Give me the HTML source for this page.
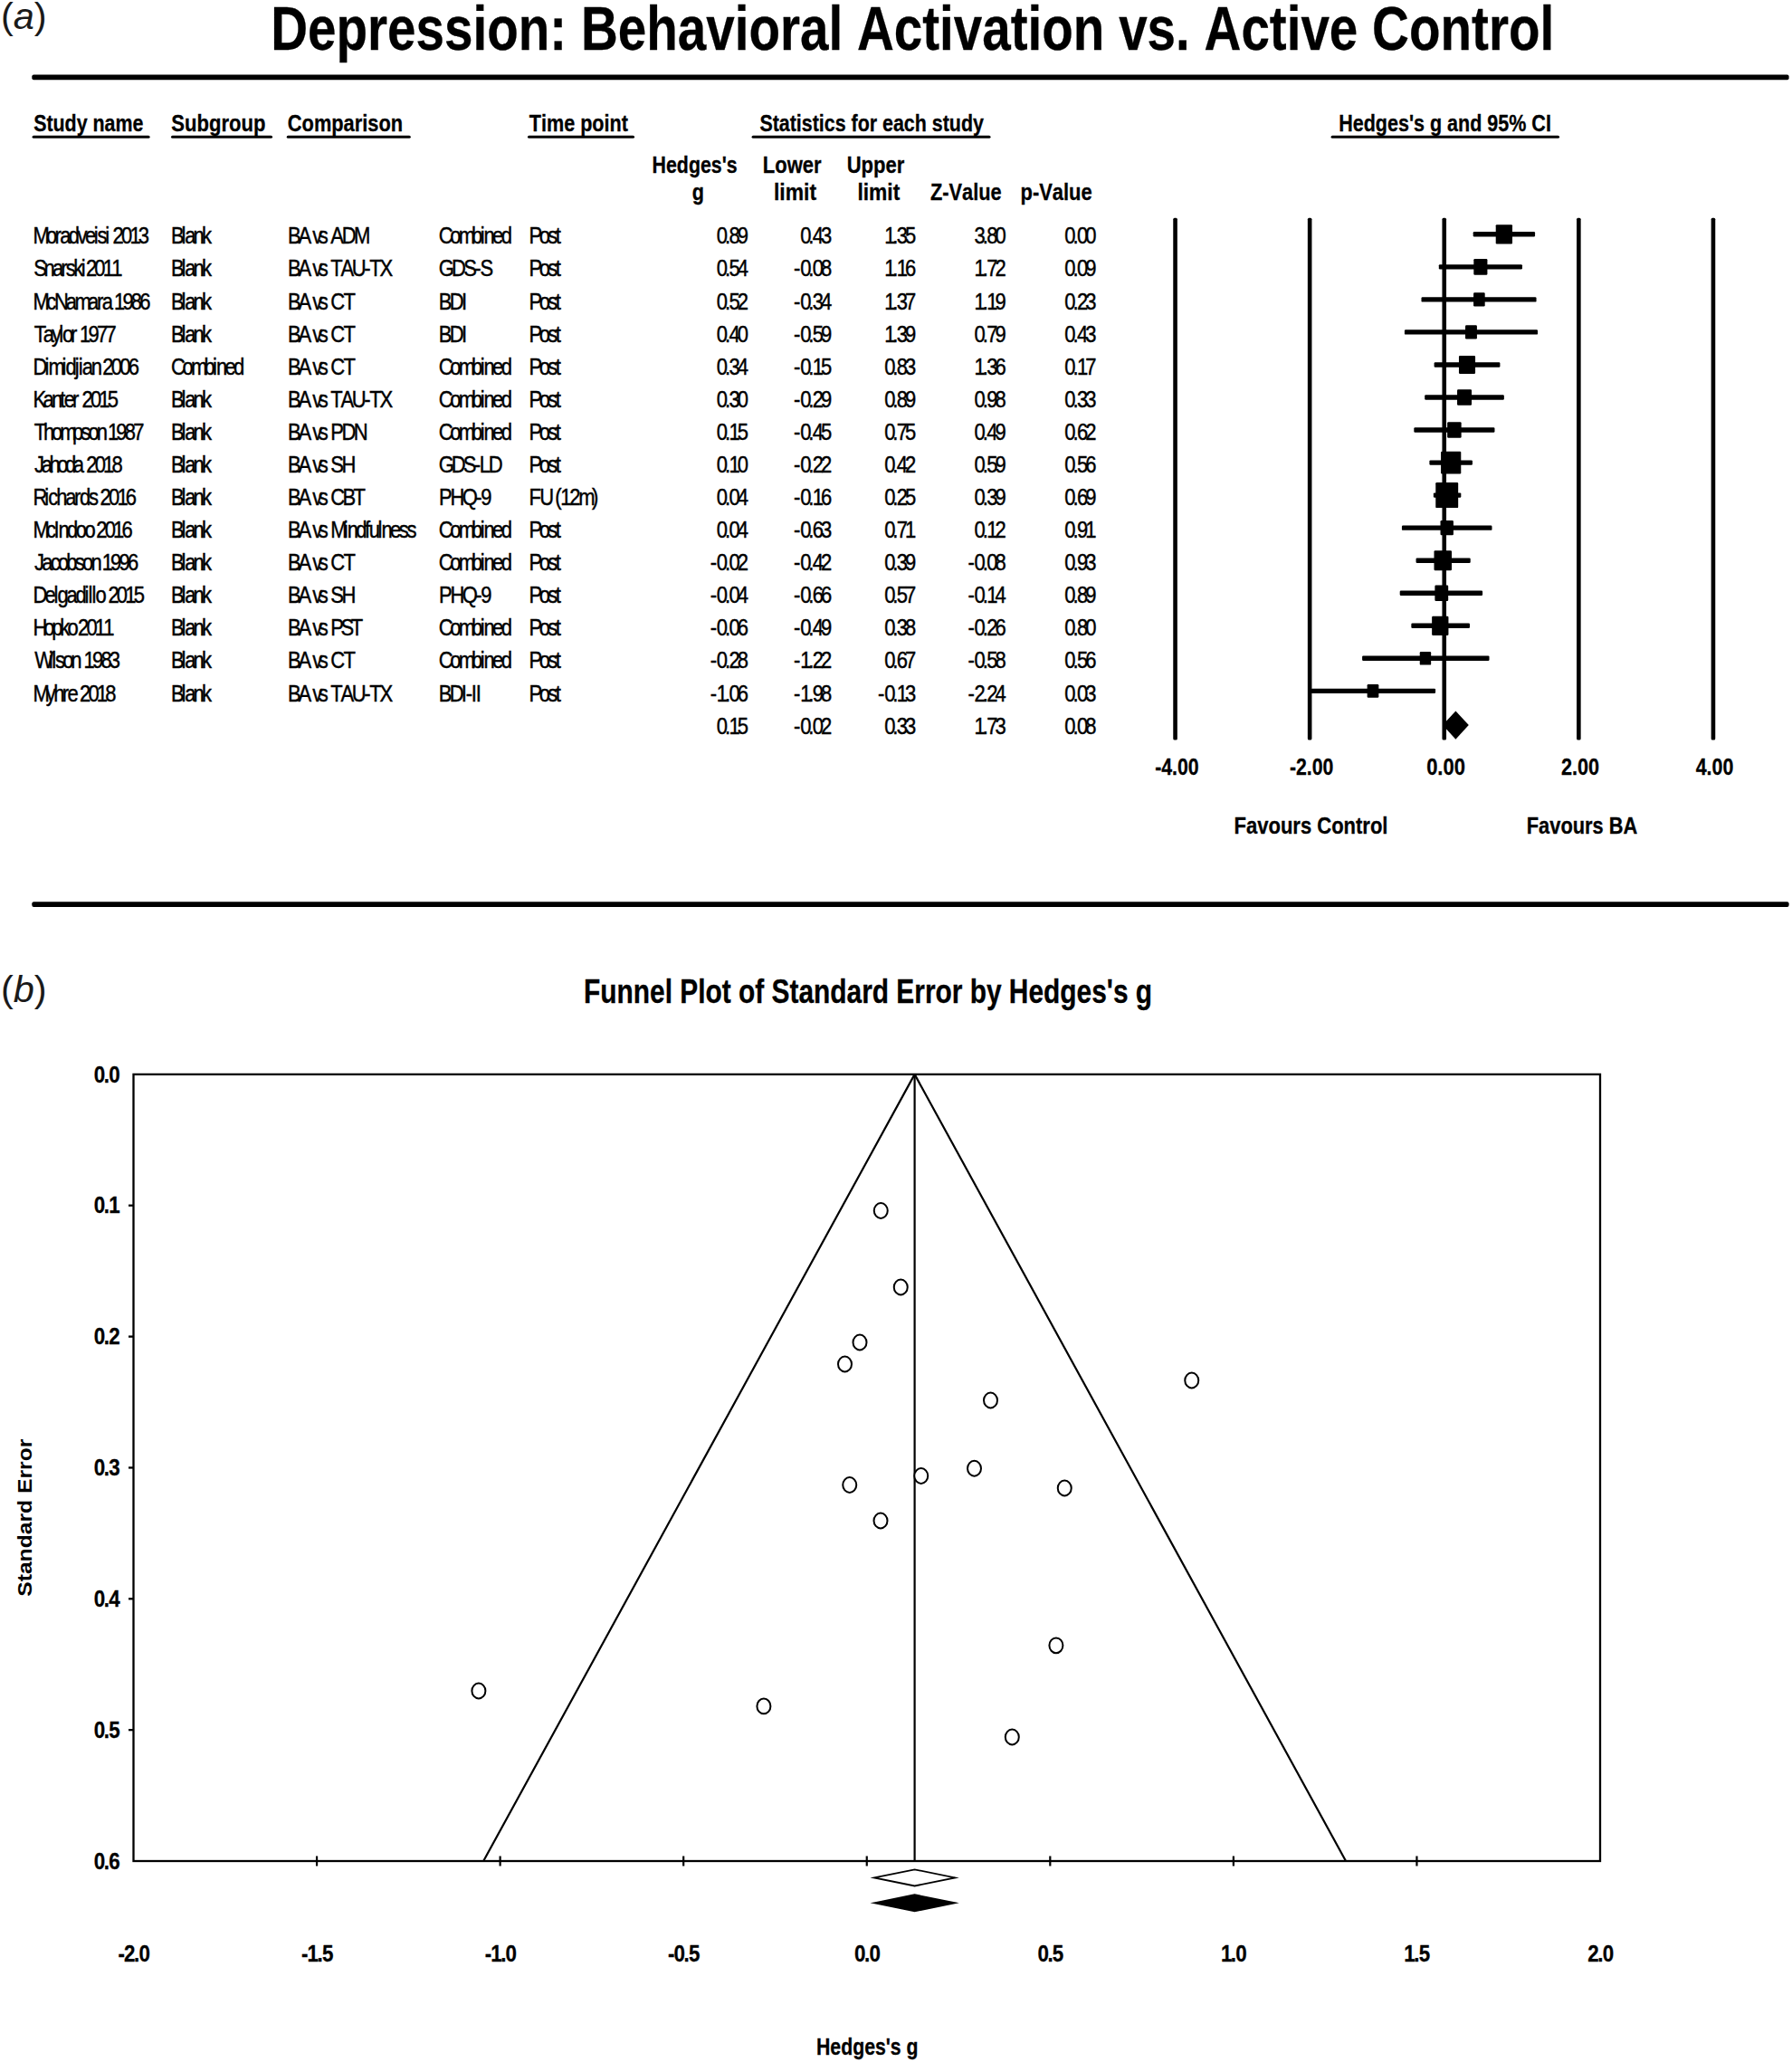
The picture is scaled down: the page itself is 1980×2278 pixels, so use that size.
<!DOCTYPE html>
<html><head><meta charset="utf-8"><title>Depression: Behavioral Activation vs. Active Control</title>
<style>
html,body{margin:0;padding:0;background:#fff}
svg{display:block;font-family:"Liberation Sans",sans-serif;fill:#000;font-kerning:none;font-variant-ligatures:none}
.d{stroke:#000;stroke-width:.45px}
.b{stroke:#000;stroke-width:.3px}
</style></head><body>
<svg width="1980" height="2278" viewBox="0 0 1980 2278">
<rect width="1980" height="2278" fill="#fff"/>
<text transform="translate(1 31.6) scale(1.03 1)" font-size="40.25" fill="#1a1a1a">(<tspan font-style="italic">a</tspan>)</text>
<text transform="translate(299.22 54.5) scale(0.8321 1)" font-size="68" font-weight="bold" class="b">Depression: Behavioral Activation vs. Active Control</text>
<rect x="35.3" y="82.5" width="1941.3" height="5.75" fill="#000" rx="2"/>
<rect x="35.3" y="996.25" width="1941.3" height="5.75" fill="#000" rx="2"/>
<text transform="translate(37.13 145.25) scale(0.8234 1)" font-size="26" font-weight="bold" class="b">Study name</text>
<rect x="35.6" y="149.75" width="130" height="3" fill="#000" rx="1.5"/>
<text transform="translate(189.37 145.25) scale(0.8476 1)" font-size="26" font-weight="bold" class="b">Subgroup</text>
<rect x="189" y="149.75" width="112" height="3" fill="#000" rx="1.5"/>
<text transform="translate(317.86 145.25) scale(0.8389 1)" font-size="26" font-weight="bold" class="b">Comparison</text>
<rect x="316.75" y="149.75" width="137" height="3" fill="#000" rx="1.5"/>
<text transform="translate(584.76 145.25) scale(0.8313 1)" font-size="26" font-weight="bold" class="b">Time point</text>
<rect x="583" y="149.75" width="118" height="3" fill="#000" rx="1.5"/>
<text transform="translate(839.38 145.25) scale(0.824 1)" font-size="26" font-weight="bold" class="b">Statistics for each study</text>
<rect x="830.6" y="149.75" width="263.9" height="3" fill="#000" rx="1.5"/>
<text transform="translate(1479.16 145.25) scale(0.8279 1)" font-size="26" font-weight="bold" class="b">Hedges's g and 95% CI</text>
<rect x="1470.6" y="149.75" width="252.4" height="3" fill="#000" rx="1.5"/>
<text transform="translate(720.57 191) scale(0.8214 1)" font-size="26" font-weight="bold" class="b">Hedges's</text>
<text transform="translate(764.69 220.8) scale(0.83 1)" font-size="26" font-weight="bold" class="b">g</text>
<text transform="translate(842.83 191) scale(0.8464 1)" font-size="26" font-weight="bold" class="b">Lower</text>
<text transform="translate(855 220.8) scale(0.8808 1)" font-size="26" font-weight="bold" class="b">limit</text>
<text transform="translate(935.68 191) scale(0.8474 1)" font-size="26" font-weight="bold" class="b">Upper</text>
<text transform="translate(947.41 220.8) scale(0.8769 1)" font-size="26" font-weight="bold" class="b">limit</text>
<text transform="translate(1028.05 220.8) scale(0.838 1)" font-size="26" font-weight="bold" class="b">Z-Value</text>
<text transform="translate(1127.55 220.8) scale(0.8433 1)" font-size="26" font-weight="bold" class="b">p-Value</text>
<text transform="translate(36.5 269.4) scale(0.83 1)" font-size="26.5" x="0 17.34 28.92 35.85 47.43 59 69.41 80.99 85.62 96.02 99.7 106.12 117.47 128.82 140.17" class="d">Moradveisi 2013</text>
<text transform="translate(189.1 269.4) scale(0.83 1)" font-size="26.5" x="0 13.6 18.13 29.47 40.81" class="d">Blank</text>
<text transform="translate(317.9 269.4) scale(0.83 1)" font-size="26.5" x="0 13.95 26.73 32.93 40.72 49.13 57.11 71.97 88.06" class="d">BA vs ADM</text>
<text transform="translate(484.78 269.4) scale(0.83 1)" font-size="26.5" x="0 14.98 26.52 43.8 55.33 59.94 71.48 83.01" class="d">Combined</text>
<text transform="translate(584.4 269.4) scale(0.83 1)" font-size="26.5" x="0 13.64 25.02 35.25" class="d">Post</text>
<text transform="translate(791.85 269.4) scale(0.83 1)" font-size="26.5" x="0 11.02 16.53 27.56" class="d">0.89</text>
<text transform="translate(884.15 269.4) scale(0.83 1)" font-size="26.5" x="0 11.02 16.53 27.56" class="d">0.43</text>
<text transform="translate(977.15 269.4) scale(0.83 1)" font-size="26.5" x="0 11.02 16.53 27.56" class="d">1.35</text>
<text transform="translate(1076.55 269.4) scale(0.83 1)" font-size="26.5" x="0 11.02 16.53 27.56" class="d">3.80</text>
<text transform="translate(1176.35 269.4) scale(0.83 1)" font-size="26.5" x="0 11.02 16.53 27.56" class="d">0.00</text>
<text transform="translate(37.3 305.48) scale(0.83 1)" font-size="26.5" x="0 13.53 24.81 36.09 42.84 52.98 63.13 64.82 69.38 80.73 92.07 103.42" class="d">Snarski 2011</text>
<text transform="translate(189.1 305.48) scale(0.83 1)" font-size="26.5" x="0 13.6 18.13 29.47 40.81" class="d">Blank</text>
<text transform="translate(317.9 305.48) scale(0.83 1)" font-size="26.5" x="0 13.95 26.73 32.93 40.72 49.13 57.11 70.69 85.51 101.55 108.95 122.52" class="d">BA vs TAU-TX</text>
<text transform="translate(484.79 305.48) scale(0.83 1)" font-size="26.5" x="0 17.11 33 47.67 54.99" class="d">GDS-S</text>
<text transform="translate(584.4 305.48) scale(0.83 1)" font-size="26.5" x="0 13.64 25.02 35.25" class="d">Post</text>
<text transform="translate(791.85 305.48) scale(0.83 1)" font-size="26.5" x="0 11.02 16.53 27.56" class="d">0.54</text>
<text transform="translate(877.04 305.48) scale(0.83 1)" font-size="26.5" x="0 8.56 19.58 25.09 36.12" class="d">-0.08</text>
<text transform="translate(977.15 305.48) scale(0.83 1)" font-size="26.5" x="0 11.02 16.53 27.56" class="d">1.16</text>
<text transform="translate(1076.55 305.48) scale(0.83 1)" font-size="26.5" x="0 11.02 16.53 27.56" class="d">1.72</text>
<text transform="translate(1176.35 305.48) scale(0.83 1)" font-size="26.5" x="0 11.02 16.53 27.56" class="d">0.09</text>
<text transform="translate(36.5 341.56) scale(0.83 1)" font-size="26.5" x="0 17.66 28.27 43.58 55.37 73.04 84.83 91.89 102.06 107.81 119.16 130.51 141.85" class="d">McNamara 1986</text>
<text transform="translate(189.1 341.56) scale(0.83 1)" font-size="26.5" x="0 13.6 18.13 29.47 40.81" class="d">Blank</text>
<text transform="translate(317.9 341.56) scale(0.83 1)" font-size="26.5" x="0 13.95 26.73 32.93 40.72 49.13 57.11 74.31" class="d">BA vs CT</text>
<text transform="translate(484.7 341.56) scale(0.83 1)" font-size="26.5" x="0 14.59 30.39" class="d">BDI</text>
<text transform="translate(584.4 341.56) scale(0.83 1)" font-size="26.5" x="0 13.64 25.02 35.25" class="d">Post</text>
<text transform="translate(791.85 341.56) scale(0.83 1)" font-size="26.5" x="0 11.02 16.53 27.56" class="d">0.52</text>
<text transform="translate(877.04 341.56) scale(0.83 1)" font-size="26.5" x="0 8.56 19.58 25.09 36.12" class="d">-0.34</text>
<text transform="translate(977.15 341.56) scale(0.83 1)" font-size="26.5" x="0 11.02 16.53 27.56" class="d">1.37</text>
<text transform="translate(1076.55 341.56) scale(0.83 1)" font-size="26.5" x="0 11.02 16.53 27.56" class="d">1.19</text>
<text transform="translate(1176.35 341.56) scale(0.83 1)" font-size="26.5" x="0 11.02 16.53 27.56" class="d">0.23</text>
<text transform="translate(37.81 377.64) scale(0.83 1)" font-size="26.5" x="0 12.11 23.13 33.05 37.45 48.48 54.16 60.61 71.96 83.31 94.66" class="d">Taylor 1977</text>
<text transform="translate(189.1 377.64) scale(0.83 1)" font-size="26.5" x="0 13.6 18.13 29.47 40.81" class="d">Blank</text>
<text transform="translate(317.9 377.64) scale(0.83 1)" font-size="26.5" x="0 13.95 26.73 32.93 40.72 49.13 57.11 74.31" class="d">BA vs CT</text>
<text transform="translate(484.7 377.64) scale(0.83 1)" font-size="26.5" x="0 14.59 30.39" class="d">BDI</text>
<text transform="translate(584.4 377.64) scale(0.83 1)" font-size="26.5" x="0 13.64 25.02 35.25" class="d">Post</text>
<text transform="translate(791.85 377.64) scale(0.83 1)" font-size="26.5" x="0 11.02 16.53 27.56" class="d">0.40</text>
<text transform="translate(877.04 377.64) scale(0.83 1)" font-size="26.5" x="0 8.56 19.58 25.09 36.12" class="d">-0.59</text>
<text transform="translate(977.15 377.64) scale(0.83 1)" font-size="26.5" x="0 11.02 16.53 27.56" class="d">1.39</text>
<text transform="translate(1076.55 377.64) scale(0.83 1)" font-size="26.5" x="0 11.02 16.53 27.56" class="d">0.79</text>
<text transform="translate(1176.35 377.64) scale(0.83 1)" font-size="26.5" x="0 11.02 16.53 27.56" class="d">0.43</text>
<text transform="translate(36.5 413.72) scale(0.83 1)" font-size="26.5" x="0 15.71 20.54 38.66 43.49 55.59 60.42 65.25 77.35 87.35 92.63 103.98 115.32 126.67" class="d">Dimidjian 2006</text>
<text transform="translate(189.08 413.72) scale(0.83 1)" font-size="26.5" x="0 15 26.56 43.86 55.41 60.03 71.58 83.13" class="d">Combined</text>
<text transform="translate(317.9 413.72) scale(0.83 1)" font-size="26.5" x="0 13.95 26.73 32.93 40.72 49.13 57.11 74.31" class="d">BA vs CT</text>
<text transform="translate(484.78 413.72) scale(0.83 1)" font-size="26.5" x="0 14.98 26.52 43.8 55.33 59.94 71.48 83.01" class="d">Combined</text>
<text transform="translate(584.4 413.72) scale(0.83 1)" font-size="26.5" x="0 13.64 25.02 35.25" class="d">Post</text>
<text transform="translate(791.85 413.72) scale(0.83 1)" font-size="26.5" x="0 11.02 16.53 27.56" class="d">0.34</text>
<text transform="translate(877.04 413.72) scale(0.83 1)" font-size="26.5" x="0 8.56 19.58 25.09 36.12" class="d">-0.15</text>
<text transform="translate(977.15 413.72) scale(0.83 1)" font-size="26.5" x="0 11.02 16.53 27.56" class="d">0.83</text>
<text transform="translate(1076.55 413.72) scale(0.83 1)" font-size="26.5" x="0 11.02 16.53 27.56" class="d">1.36</text>
<text transform="translate(1176.35 413.72) scale(0.83 1)" font-size="26.5" x="0 11.02 16.53 27.56" class="d">0.17</text>
<text transform="translate(36.5 449.8) scale(0.83 1)" font-size="26.5" x="0 13.39 24.56 35.72 41.3 52.46 58.44 65.11 76.45 87.8 99.15" class="d">Kanter 2015</text>
<text transform="translate(189.1 449.8) scale(0.83 1)" font-size="26.5" x="0 13.6 18.13 29.47 40.81" class="d">Blank</text>
<text transform="translate(317.9 449.8) scale(0.83 1)" font-size="26.5" x="0 13.95 26.73 32.93 40.72 49.13 57.11 70.69 85.51 101.55 108.95 122.52" class="d">BA vs TAU-TX</text>
<text transform="translate(484.78 449.8) scale(0.83 1)" font-size="26.5" x="0 14.98 26.52 43.8 55.33 59.94 71.48 83.01" class="d">Combined</text>
<text transform="translate(584.4 449.8) scale(0.83 1)" font-size="26.5" x="0 13.64 25.02 35.25" class="d">Post</text>
<text transform="translate(791.85 449.8) scale(0.83 1)" font-size="26.5" x="0 11.02 16.53 27.56" class="d">0.30</text>
<text transform="translate(877.04 449.8) scale(0.83 1)" font-size="26.5" x="0 8.56 19.58 25.09 36.12" class="d">-0.29</text>
<text transform="translate(977.15 449.8) scale(0.83 1)" font-size="26.5" x="0 11.02 16.53 27.56" class="d">0.89</text>
<text transform="translate(1076.55 449.8) scale(0.83 1)" font-size="26.5" x="0 11.02 16.53 27.56" class="d">0.98</text>
<text transform="translate(1176.35 449.8) scale(0.83 1)" font-size="26.5" x="0 11.02 16.53 27.56" class="d">0.33</text>
<text transform="translate(37.81 485.88) scale(0.83 1)" font-size="26.5" x="0 12.18 23.27 34.36 50.97 62.06 72.03 83.12 92.28 97.72 109.07 120.42 131.77" class="d">Thompson 1987</text>
<text transform="translate(189.1 485.88) scale(0.83 1)" font-size="26.5" x="0 13.6 18.13 29.47 40.81" class="d">Blank</text>
<text transform="translate(317.9 485.88) scale(0.83 1)" font-size="26.5" x="0 13.95 26.73 32.93 40.72 49.13 57.11 71.81 87.73" class="d">BA vs PDN</text>
<text transform="translate(484.78 485.88) scale(0.83 1)" font-size="26.5" x="0 14.98 26.52 43.8 55.33 59.94 71.48 83.01" class="d">Combined</text>
<text transform="translate(584.4 485.88) scale(0.83 1)" font-size="26.5" x="0 13.64 25.02 35.25" class="d">Post</text>
<text transform="translate(791.85 485.88) scale(0.83 1)" font-size="26.5" x="0 11.02 16.53 27.56" class="d">0.15</text>
<text transform="translate(877.04 485.88) scale(0.83 1)" font-size="26.5" x="0 8.56 19.58 25.09 36.12" class="d">-0.45</text>
<text transform="translate(977.15 485.88) scale(0.83 1)" font-size="26.5" x="0 11.02 16.53 27.56" class="d">0.75</text>
<text transform="translate(1076.55 485.88) scale(0.83 1)" font-size="26.5" x="0 11.02 16.53 27.56" class="d">0.49</text>
<text transform="translate(1176.35 485.88) scale(0.83 1)" font-size="26.5" x="0 11.02 16.53 27.56" class="d">0.62</text>
<text transform="translate(37.96 521.96) scale(0.83 1)" font-size="26.5" x="0 9.49 20.04 30.59 41.15 51.7 61.97 69.05 80.4 91.74 103.09" class="d">Jahoda 2018</text>
<text transform="translate(189.1 521.96) scale(0.83 1)" font-size="26.5" x="0 13.6 18.13 29.47 40.81" class="d">Blank</text>
<text transform="translate(317.9 521.96) scale(0.83 1)" font-size="26.5" x="0 13.95 26.73 32.93 40.72 49.13 57.11 71.7" class="d">BA vs SH</text>
<text transform="translate(484.79 521.96) scale(0.83 1)" font-size="26.5" x="0 16.83 32.45 46.88 54.08 66.11" class="d">GDS-LD</text>
<text transform="translate(584.4 521.96) scale(0.83 1)" font-size="26.5" x="0 13.64 25.02 35.25" class="d">Post</text>
<text transform="translate(791.85 521.96) scale(0.83 1)" font-size="26.5" x="0 11.02 16.53 27.56" class="d">0.10</text>
<text transform="translate(877.04 521.96) scale(0.83 1)" font-size="26.5" x="0 8.56 19.58 25.09 36.12" class="d">-0.22</text>
<text transform="translate(977.15 521.96) scale(0.83 1)" font-size="26.5" x="0 11.02 16.53 27.56" class="d">0.42</text>
<text transform="translate(1076.55 521.96) scale(0.83 1)" font-size="26.5" x="0 11.02 16.53 27.56" class="d">0.59</text>
<text transform="translate(1176.35 521.96) scale(0.83 1)" font-size="26.5" x="0 11.02 16.53 27.56" class="d">0.56</text>
<text transform="translate(36.5 558.04) scale(0.83 1)" font-size="26.5" x="0 15.5 20.27 31.01 42.95 54.89 62.04 73.98 83.3 89.25 100.6 111.95 123.3" class="d">Richards 2016</text>
<text transform="translate(189.1 558.04) scale(0.83 1)" font-size="26.5" x="0 13.6 18.13 29.47 40.81" class="d">Blank</text>
<text transform="translate(317.9 558.04) scale(0.83 1)" font-size="26.5" x="0 13.95 26.73 32.93 40.72 49.13 57.11 72.88 87.44" class="d">BA vs CBT</text>
<text transform="translate(485.1 558.04) scale(0.83 1)" font-size="26.5" x="0 14.85 30.94 48.26 55.68" class="d">PHQ-9</text>
<text transform="translate(584.4 558.04) scale(0.83 1)" font-size="26.5" x="0 14.24 29.29 34.87 42.04 54.01 65.98 83.91" class="d">FU (12m)</text>
<text transform="translate(791.85 558.04) scale(0.83 1)" font-size="26.5" x="0 11.02 16.53 27.56" class="d">0.04</text>
<text transform="translate(877.04 558.04) scale(0.83 1)" font-size="26.5" x="0 8.56 19.58 25.09 36.12" class="d">-0.16</text>
<text transform="translate(977.15 558.04) scale(0.83 1)" font-size="26.5" x="0 11.02 16.53 27.56" class="d">0.25</text>
<text transform="translate(1076.55 558.04) scale(0.83 1)" font-size="26.5" x="0 11.02 16.53 27.56" class="d">0.39</text>
<text transform="translate(1176.35 558.04) scale(0.83 1)" font-size="26.5" x="0 11.02 16.53 27.56" class="d">0.69</text>
<text transform="translate(36.5 594.12) scale(0.83 1)" font-size="26.5" x="0 17.41 27.86 33.67 45.3 56.92 68.55 78.44 84.07 95.42 106.77 118.12" class="d">McIndoo 2016</text>
<text transform="translate(189.1 594.12) scale(0.83 1)" font-size="26.5" x="0 13.6 18.13 29.47 40.81" class="d">Blank</text>
<text transform="translate(317.9 594.12) scale(0.83 1)" font-size="26.5" x="0 13.95 26.73 32.93 40.72 49.13 57.11 74.59 79.25 90.91 102.58 108.41 120.07 124.74 136.4 148.07 158.56" class="d">BA vs Mindfulness</text>
<text transform="translate(484.78 594.12) scale(0.83 1)" font-size="26.5" x="0 14.98 26.52 43.8 55.33 59.94 71.48 83.01" class="d">Combined</text>
<text transform="translate(584.4 594.12) scale(0.83 1)" font-size="26.5" x="0 13.64 25.02 35.25" class="d">Post</text>
<text transform="translate(791.85 594.12) scale(0.83 1)" font-size="26.5" x="0 11.02 16.53 27.56" class="d">0.04</text>
<text transform="translate(877.04 594.12) scale(0.83 1)" font-size="26.5" x="0 8.56 19.58 25.09 36.12" class="d">-0.63</text>
<text transform="translate(977.15 594.12) scale(0.83 1)" font-size="26.5" x="0 11.02 16.53 27.56" class="d">0.71</text>
<text transform="translate(1076.55 594.12) scale(0.83 1)" font-size="26.5" x="0 11.02 16.53 27.56" class="d">0.12</text>
<text transform="translate(1176.35 594.12) scale(0.83 1)" font-size="26.5" x="0 11.02 16.53 27.56" class="d">0.91</text>
<text transform="translate(37.96 630.2) scale(0.83 1)" font-size="26.5" x="0 10.1 21.33 31.43 42.66 53.9 64 75.23 84.56 90.02 101.37 112.72 124.07" class="d">Jacobson 1996</text>
<text transform="translate(189.1 630.2) scale(0.83 1)" font-size="26.5" x="0 13.6 18.13 29.47 40.81" class="d">Blank</text>
<text transform="translate(317.9 630.2) scale(0.83 1)" font-size="26.5" x="0 13.95 26.73 32.93 40.72 49.13 57.11 74.31" class="d">BA vs CT</text>
<text transform="translate(484.78 630.2) scale(0.83 1)" font-size="26.5" x="0 14.98 26.52 43.8 55.33 59.94 71.48 83.01" class="d">Combined</text>
<text transform="translate(584.4 630.2) scale(0.83 1)" font-size="26.5" x="0 13.64 25.02 35.25" class="d">Post</text>
<text transform="translate(784.74 630.2) scale(0.83 1)" font-size="26.5" x="0 8.56 19.58 25.09 36.12" class="d">-0.02</text>
<text transform="translate(877.04 630.2) scale(0.83 1)" font-size="26.5" x="0 8.56 19.58 25.09 36.12" class="d">-0.42</text>
<text transform="translate(977.15 630.2) scale(0.83 1)" font-size="26.5" x="0 11.02 16.53 27.56" class="d">0.39</text>
<text transform="translate(1069.44 630.2) scale(0.83 1)" font-size="26.5" x="0 8.56 19.58 25.09 36.12" class="d">-0.08</text>
<text transform="translate(1176.35 630.2) scale(0.83 1)" font-size="26.5" x="0 11.02 16.53 27.56" class="d">0.93</text>
<text transform="translate(36.5 666.28) scale(0.83 1)" font-size="26.5" x="0 15.67 27.75 32.57 44.64 56.71 68.78 73.6 78.43 83.25 93.94 99.93 111.27 122.62 133.97" class="d">Delgadillo 2015</text>
<text transform="translate(189.1 666.28) scale(0.83 1)" font-size="26.5" x="0 13.6 18.13 29.47 40.81" class="d">Blank</text>
<text transform="translate(317.9 666.28) scale(0.83 1)" font-size="26.5" x="0 13.95 26.73 32.93 40.72 49.13 57.11 71.7" class="d">BA vs SH</text>
<text transform="translate(485.1 666.28) scale(0.83 1)" font-size="26.5" x="0 14.85 30.94 48.26 55.68" class="d">PHQ-9</text>
<text transform="translate(584.4 666.28) scale(0.83 1)" font-size="26.5" x="0 13.64 25.02 35.25" class="d">Post</text>
<text transform="translate(784.74 666.28) scale(0.83 1)" font-size="26.5" x="0 8.56 19.58 25.09 36.12" class="d">-0.04</text>
<text transform="translate(877.04 666.28) scale(0.83 1)" font-size="26.5" x="0 8.56 19.58 25.09 36.12" class="d">-0.66</text>
<text transform="translate(977.15 666.28) scale(0.83 1)" font-size="26.5" x="0 11.02 16.53 27.56" class="d">0.57</text>
<text transform="translate(1069.44 666.28) scale(0.83 1)" font-size="26.5" x="0 8.56 19.58 25.09 36.12" class="d">-0.14</text>
<text transform="translate(1176.35 666.28) scale(0.83 1)" font-size="26.5" x="0 11.02 16.53 27.56" class="d">0.89</text>
<text transform="translate(36.5 702.36) scale(0.83 1)" font-size="26.5" x="0 14.12 25 35.88 45.66 54.4 59.62 70.97 82.32 93.67" class="d">Hopko 2011</text>
<text transform="translate(189.1 702.36) scale(0.83 1)" font-size="26.5" x="0 13.6 18.13 29.47 40.81" class="d">Blank</text>
<text transform="translate(317.9 702.36) scale(0.83 1)" font-size="26.5" x="0 13.95 26.73 32.93 40.72 49.13 57.11 70.65 84.19" class="d">BA vs PST</text>
<text transform="translate(484.78 702.36) scale(0.83 1)" font-size="26.5" x="0 14.98 26.52 43.8 55.33 59.94 71.48 83.01" class="d">Combined</text>
<text transform="translate(584.4 702.36) scale(0.83 1)" font-size="26.5" x="0 13.64 25.02 35.25" class="d">Post</text>
<text transform="translate(784.74 702.36) scale(0.83 1)" font-size="26.5" x="0 8.56 19.58 25.09 36.12" class="d">-0.06</text>
<text transform="translate(877.04 702.36) scale(0.83 1)" font-size="26.5" x="0 8.56 19.58 25.09 36.12" class="d">-0.49</text>
<text transform="translate(977.15 702.36) scale(0.83 1)" font-size="26.5" x="0 11.02 16.53 27.56" class="d">0.38</text>
<text transform="translate(1069.44 702.36) scale(0.83 1)" font-size="26.5" x="0 8.56 19.58 25.09 36.12" class="d">-0.26</text>
<text transform="translate(1176.35 702.36) scale(0.83 1)" font-size="26.5" x="0 11.02 16.53 27.56" class="d">0.80</text>
<text transform="translate(38.2 738.44) scale(0.83 1)" font-size="26.5" x="0 18.65 23.04 27.43 37.31 48.3 58.72 65.51 76.86 88.21 99.56" class="d">Wilson 1983</text>
<text transform="translate(189.1 738.44) scale(0.83 1)" font-size="26.5" x="0 13.6 18.13 29.47 40.81" class="d">Blank</text>
<text transform="translate(317.9 738.44) scale(0.83 1)" font-size="26.5" x="0 13.95 26.73 32.93 40.72 49.13 57.11 74.31" class="d">BA vs CT</text>
<text transform="translate(484.78 738.44) scale(0.83 1)" font-size="26.5" x="0 14.98 26.52 43.8 55.33 59.94 71.48 83.01" class="d">Combined</text>
<text transform="translate(584.4 738.44) scale(0.83 1)" font-size="26.5" x="0 13.64 25.02 35.25" class="d">Post</text>
<text transform="translate(784.74 738.44) scale(0.83 1)" font-size="26.5" x="0 8.56 19.58 25.09 36.12" class="d">-0.28</text>
<text transform="translate(877.04 738.44) scale(0.83 1)" font-size="26.5" x="0 8.56 19.58 25.09 36.12" class="d">-1.22</text>
<text transform="translate(977.15 738.44) scale(0.83 1)" font-size="26.5" x="0 11.02 16.53 27.56" class="d">0.67</text>
<text transform="translate(1069.44 738.44) scale(0.83 1)" font-size="26.5" x="0 8.56 19.58 25.09 36.12" class="d">-0.58</text>
<text transform="translate(1176.35 738.44) scale(0.83 1)" font-size="26.5" x="0 11.02 16.53 27.56" class="d">0.56</text>
<text transform="translate(36.5 774.52) scale(0.83 1)" font-size="26.5" x="0 17.14 27.43 38.87 45.72 55.91 62.01 73.36 84.71 96.06" class="d">Myhre 2018</text>
<text transform="translate(189.1 774.52) scale(0.83 1)" font-size="26.5" x="0 13.6 18.13 29.47 40.81" class="d">Blank</text>
<text transform="translate(317.9 774.52) scale(0.83 1)" font-size="26.5" x="0 13.95 26.73 32.93 40.72 49.13 57.11 70.69 85.51 101.55 108.95 122.52" class="d">BA vs TAU-TX</text>
<text transform="translate(484.7 774.52) scale(0.83 1)" font-size="26.5" x="0 14.51 30.22 36.26 43.5 49.55" class="d">BDI-II</text>
<text transform="translate(584.4 774.52) scale(0.83 1)" font-size="26.5" x="0 13.64 25.02 35.25" class="d">Post</text>
<text transform="translate(784.74 774.52) scale(0.83 1)" font-size="26.5" x="0 8.56 19.58 25.09 36.12" class="d">-1.06</text>
<text transform="translate(877.04 774.52) scale(0.83 1)" font-size="26.5" x="0 8.56 19.58 25.09 36.12" class="d">-1.98</text>
<text transform="translate(970.04 774.52) scale(0.83 1)" font-size="26.5" x="0 8.56 19.58 25.09 36.12" class="d">-0.13</text>
<text transform="translate(1069.44 774.52) scale(0.83 1)" font-size="26.5" x="0 8.56 19.58 25.09 36.12" class="d">-2.24</text>
<text transform="translate(1176.35 774.52) scale(0.83 1)" font-size="26.5" x="0 11.02 16.53 27.56" class="d">0.03</text>
<text transform="translate(791.85 810.6) scale(0.83 1)" font-size="26.5" x="0 11.02 16.53 27.56" class="d">0.15</text>
<text transform="translate(877.04 810.6) scale(0.83 1)" font-size="26.5" x="0 8.56 19.58 25.09 36.12" class="d">-0.02</text>
<text transform="translate(977.15 810.6) scale(0.83 1)" font-size="26.5" x="0 11.02 16.53 27.56" class="d">0.33</text>
<text transform="translate(1076.55 810.6) scale(0.83 1)" font-size="26.5" x="0 11.02 16.53 27.56" class="d">1.73</text>
<text transform="translate(1176.35 810.6) scale(0.83 1)" font-size="26.5" x="0 11.02 16.53 27.56" class="d">0.08</text>
<rect x="1296.25" y="240.7" width="4.6" height="576.8" fill="#000" rx="1.5"/>
<rect x="1444.85" y="240.7" width="4.6" height="576.8" fill="#000" rx="1.5"/>
<rect x="1593.45" y="240.7" width="4.6" height="576.8" fill="#000" rx="1.5"/>
<rect x="1742.05" y="240.7" width="4.6" height="576.8" fill="#000" rx="1.5"/>
<rect x="1890.65" y="240.7" width="4.6" height="576.8" fill="#000" rx="1.5"/>
<text transform="translate(1276.17 856.25) scale(0.8176 1)" font-size="26" font-weight="bold" class="b">-4.00</text>
<text transform="translate(1424.92 856.25) scale(0.8176 1)" font-size="26" font-weight="bold" class="b">-2.00</text>
<text transform="translate(1576.13 856.25) scale(0.8452 1)" font-size="26" font-weight="bold" class="b">0.00</text>
<text transform="translate(1725 856.25) scale(0.8327 1)" font-size="26" font-weight="bold" class="b">2.00</text>
<text transform="translate(1873.68 856.25) scale(0.8241 1)" font-size="26" font-weight="bold" class="b">4.00</text>
<text transform="translate(1363.53 921.25) scale(0.8468 1)" font-size="26" font-weight="bold" class="b">Favours Control</text>
<text transform="translate(1686.79 921.25) scale(0.8397 1)" font-size="26" font-weight="bold" class="b">Favours BA</text>
<rect x="1627.7" y="256.1" width="68.36" height="5.4" fill="#000" rx="1.2"/>
<rect x="1652.73" y="248.15" width="18.3" height="21.3" fill="#000" rx="1.2"/>
<rect x="1589.81" y="292.14" width="92.13" height="5.4" fill="#000" rx="1.2"/>
<rect x="1628.32" y="286.04" width="15.1" height="17.6" fill="#000" rx="1.2"/>
<rect x="1570.49" y="328.18" width="127.05" height="5.4" fill="#000" rx="1.2"/>
<rect x="1628.09" y="323.28" width="12.6" height="15.2" fill="#000" rx="1.2"/>
<rect x="1551.91" y="364.22" width="147.11" height="5.4" fill="#000" rx="1.2"/>
<rect x="1619.02" y="359.32" width="12.9" height="15.2" fill="#000" rx="1.2"/>
<rect x="1584.61" y="400.26" width="72.81" height="5.4" fill="#000" rx="1.2"/>
<rect x="1611.96" y="392.91" width="18.1" height="20.1" fill="#000" rx="1.2"/>
<rect x="1574.2" y="436.3" width="87.67" height="5.4" fill="#000" rx="1.2"/>
<rect x="1610.04" y="430.2" width="16" height="17.6" fill="#000" rx="1.2"/>
<rect x="1562.32" y="472.34" width="89.16" height="5.4" fill="#000" rx="1.2"/>
<rect x="1599.14" y="466.29" width="15.5" height="17.5" fill="#000" rx="1.2"/>
<rect x="1579.4" y="508.38" width="47.55" height="5.4" fill="#000" rx="1.2"/>
<rect x="1592.08" y="498.63" width="22.2" height="24.9" fill="#000" rx="1.2"/>
<rect x="1583.86" y="544.42" width="30.46" height="5.4" fill="#000" rx="1.2"/>
<rect x="1586.27" y="533.12" width="24.9" height="28" fill="#000" rx="1.2"/>
<rect x="1548.94" y="580.46" width="99.56" height="5.4" fill="#000" rx="1.2"/>
<rect x="1591.52" y="575.01" width="14.4" height="16.3" fill="#000" rx="1.2"/>
<rect x="1564.54" y="616.5" width="60.18" height="5.4" fill="#000" rx="1.2"/>
<rect x="1584.51" y="608.2" width="19.5" height="22" fill="#000" rx="1.2"/>
<rect x="1546.71" y="652.54" width="91.39" height="5.4" fill="#000" rx="1.2"/>
<rect x="1585.38" y="646.59" width="14.8" height="17.3" fill="#000" rx="1.2"/>
<rect x="1559.34" y="688.58" width="64.64" height="5.4" fill="#000" rx="1.2"/>
<rect x="1582.14" y="680.68" width="18.3" height="21.2" fill="#000" rx="1.2"/>
<rect x="1505.1" y="724.62" width="140.43" height="5.4" fill="#000" rx="1.2"/>
<rect x="1568.75" y="720.02" width="12.4" height="14.6" fill="#000" rx="1.2"/>
<rect x="1448.64" y="760.66" width="137.45" height="5.4" fill="#000" rx="1.2"/>
<rect x="1510.64" y="755.96" width="12.7" height="14.8" fill="#000" rx="1.2"/>
<polygon points="1594,801.1 1608.4,785.6 1622.8,801.1 1608.4,816.7" fill="#000"/>
<text transform="translate(1 1106.6) scale(1.03 1)" font-size="40.25" fill="#1a1a1a">(<tspan font-style="italic">b</tspan>)</text>
<text transform="translate(645 1107.5) scale(0.8079 1)" font-size="37" font-weight="bold" class="b">Funnel Plot of Standard Error by Hedges's g</text>
<rect x="147.5" y="1186.9" width="1620.5" height="869.1" fill="none" stroke="#000" stroke-width="2.3"/>
<line x1="1010.6" y1="1186.9" x2="1010.6" y2="2056" stroke="#000" stroke-width="2.2"/>
<polyline points="534.17,2056 1010.6,1186.9 1487.03,2056" fill="none" stroke="#000" stroke-width="2.2" stroke-linejoin="bevel"/>
<text transform="translate(103.82 1195.6) scale(0.86 1)" font-size="26" font-weight="bold" x="0 12.72 19.08" class="b">0.0</text>
<line x1="142" y1="1331.75" x2="147.5" y2="1331.75" stroke="#000" stroke-width="2.3"/>
<text transform="translate(103.82 1340.45) scale(0.86 1)" font-size="26" font-weight="bold" x="0 12.72 19.08" class="b">0.1</text>
<line x1="142" y1="1476.6" x2="147.5" y2="1476.6" stroke="#000" stroke-width="2.3"/>
<text transform="translate(103.82 1485.3) scale(0.86 1)" font-size="26" font-weight="bold" x="0 12.72 19.08" class="b">0.2</text>
<line x1="142" y1="1621.45" x2="147.5" y2="1621.45" stroke="#000" stroke-width="2.3"/>
<text transform="translate(103.82 1630.15) scale(0.86 1)" font-size="26" font-weight="bold" x="0 12.72 19.08" class="b">0.3</text>
<line x1="142" y1="1766.3" x2="147.5" y2="1766.3" stroke="#000" stroke-width="2.3"/>
<text transform="translate(103.82 1775) scale(0.86 1)" font-size="26" font-weight="bold" x="0 12.72 19.08" class="b">0.4</text>
<line x1="142" y1="1911.15" x2="147.5" y2="1911.15" stroke="#000" stroke-width="2.3"/>
<text transform="translate(103.82 1919.85) scale(0.86 1)" font-size="26" font-weight="bold" x="0 12.72 19.08" class="b">0.5</text>
<text transform="translate(103.82 2064.7) scale(0.86 1)" font-size="26" font-weight="bold" x="0 12.72 19.08" class="b">0.6</text>
<text transform="translate(130.52 2167.3) scale(0.86 1)" font-size="26" font-weight="bold" x="0 7.62 20.34 26.7" class="b">-2.0</text>
<line x1="350.06" y1="2050.5" x2="350.06" y2="2061.5" stroke="#000" stroke-width="2.2"/>
<text transform="translate(332.94 2167.3) scale(0.86 1)" font-size="26" font-weight="bold" x="0 7.62 20.34 26.7" class="b">-1.5</text>
<line x1="552.62" y1="2050.5" x2="552.62" y2="2061.5" stroke="#000" stroke-width="2.2"/>
<text transform="translate(535.65 2167.3) scale(0.86 1)" font-size="26" font-weight="bold" x="0 7.62 20.34 26.7" class="b">-1.0</text>
<line x1="755.19" y1="2050.5" x2="755.19" y2="2061.5" stroke="#000" stroke-width="2.2"/>
<text transform="translate(738.06 2167.3) scale(0.86 1)" font-size="26" font-weight="bold" x="0 7.62 20.34 26.7" class="b">-0.5</text>
<line x1="957.75" y1="2050.5" x2="957.75" y2="2061.5" stroke="#000" stroke-width="2.2"/>
<text transform="translate(944.04 2167.3) scale(0.86 1)" font-size="26" font-weight="bold" x="0 12.72 19.08" class="b">0.0</text>
<line x1="1160.31" y1="2050.5" x2="1160.31" y2="2061.5" stroke="#000" stroke-width="2.2"/>
<text transform="translate(1146.46 2167.3) scale(0.86 1)" font-size="26" font-weight="bold" x="0 12.72 19.08" class="b">0.5</text>
<line x1="1362.88" y1="2050.5" x2="1362.88" y2="2061.5" stroke="#000" stroke-width="2.2"/>
<text transform="translate(1348.91 2167.3) scale(0.86 1)" font-size="26" font-weight="bold" x="0 12.72 19.08" class="b">1.0</text>
<line x1="1565.44" y1="2050.5" x2="1565.44" y2="2061.5" stroke="#000" stroke-width="2.2"/>
<text transform="translate(1551.32 2167.3) scale(0.86 1)" font-size="26" font-weight="bold" x="0 12.72 19.08" class="b">1.5</text>
<text transform="translate(1754.35 2167.3) scale(0.86 1)" font-size="26" font-weight="bold" x="0 12.72 19.08" class="b">2.0</text>
<text transform="translate(901.98 2269.7) scale(0.8089 1)" font-size="26.3" font-weight="bold" class="b">Hedges's g</text>
<text transform="translate(35.2 1676.7) rotate(-90) scale(1 0.92)" font-size="24.7" font-weight="bold" text-anchor="middle">Standard Error</text>
<ellipse cx="973.25" cy="1337.5" rx="7.5" ry="8.4" fill="#fff" stroke="#000" stroke-width="2"/>
<ellipse cx="995.25" cy="1422" rx="7.5" ry="8.4" fill="#fff" stroke="#000" stroke-width="2"/>
<ellipse cx="950" cy="1483" rx="7.5" ry="8.4" fill="#fff" stroke="#000" stroke-width="2"/>
<ellipse cx="933.5" cy="1507" rx="7.5" ry="8.4" fill="#fff" stroke="#000" stroke-width="2"/>
<ellipse cx="1316.75" cy="1525" rx="7.5" ry="8.4" fill="#fff" stroke="#000" stroke-width="2"/>
<ellipse cx="1094.5" cy="1547" rx="7.5" ry="8.4" fill="#fff" stroke="#000" stroke-width="2"/>
<ellipse cx="1076.5" cy="1622.25" rx="7.5" ry="8.4" fill="#fff" stroke="#000" stroke-width="2"/>
<ellipse cx="1017.75" cy="1630.5" rx="7.5" ry="8.4" fill="#fff" stroke="#000" stroke-width="2"/>
<ellipse cx="938.75" cy="1640.5" rx="7.5" ry="8.4" fill="#fff" stroke="#000" stroke-width="2"/>
<ellipse cx="1176.25" cy="1644" rx="7.5" ry="8.4" fill="#fff" stroke="#000" stroke-width="2"/>
<ellipse cx="973" cy="1680" rx="7.5" ry="8.4" fill="#fff" stroke="#000" stroke-width="2"/>
<ellipse cx="1166.9" cy="1817.8" rx="7.5" ry="8.4" fill="#fff" stroke="#000" stroke-width="2"/>
<ellipse cx="528.9" cy="1868" rx="7.5" ry="8.4" fill="#fff" stroke="#000" stroke-width="2"/>
<ellipse cx="843.9" cy="1884.9" rx="7.5" ry="8.4" fill="#fff" stroke="#000" stroke-width="2"/>
<ellipse cx="1118.3" cy="1919" rx="7.5" ry="8.4" fill="#fff" stroke="#000" stroke-width="2"/>
<polygon points="966,2074.4 1010.6,2065.3 1055.3,2074.4 1010.6,2083.5" fill="#fff" stroke="#000" stroke-width="1.8" stroke-miterlimit="10"/>
<polygon points="966,2102.3 1010.6,2093.2 1055.3,2102.3 1010.6,2111.4" fill="#000" stroke="#000" stroke-width="1.8" stroke-miterlimit="10"/>
</svg>
</body></html>
